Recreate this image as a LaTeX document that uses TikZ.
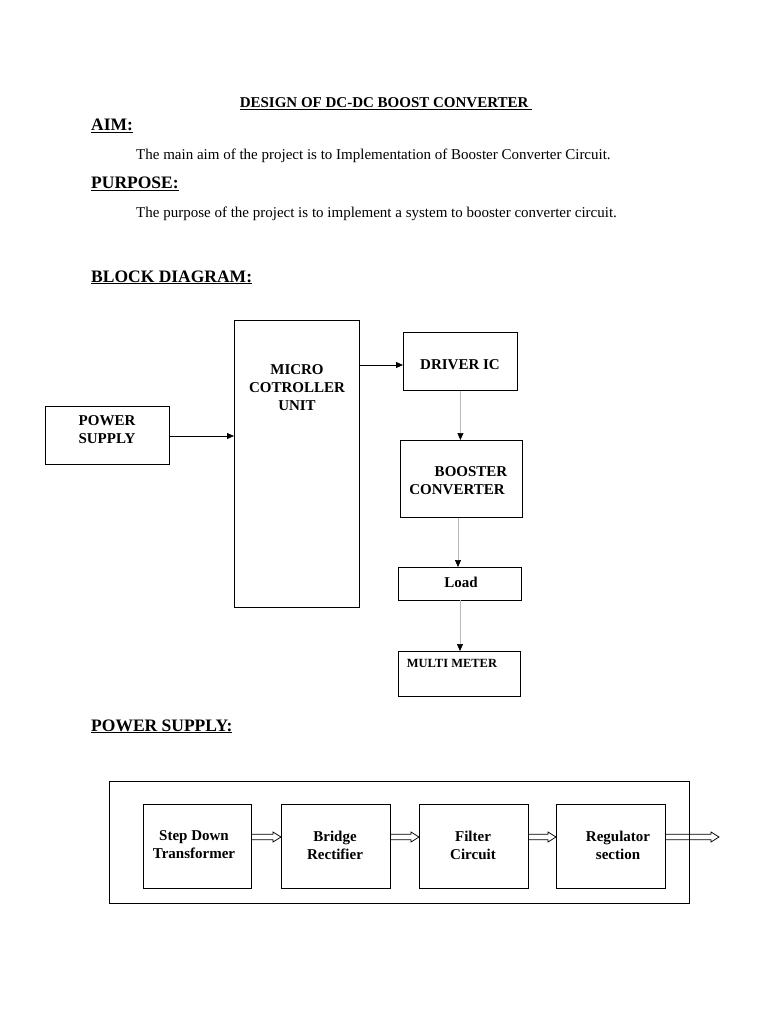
\documentclass[tikz,border=0pt]{standalone}
\usepackage{fontspec}
\setmainfont{Liberation Serif}
\usetikzlibrary{arrows.meta,calc}
\begin{document}
\begin{tikzpicture}[x=1pt,y=-1pt,
 box/.style={draw, line width=0.8pt, inner sep=0pt, anchor=north west},
 txt/.style={font=\fontsize{15}{18}\selectfont, inner sep=0pt, anchor=base west},
 head/.style={font=\fontsize{17.5}{20}\bfseries\selectfont, inner sep=0pt, anchor=base west},
 btxt/.style={font=\fontsize{15}{18}\bfseries\selectfont, inner sep=0pt, align=center},
 arr/.style={line width=0.8pt, -{Triangle[length=7pt,width=6pt]}},
 garr/.style={draw=gray!55, line width=0.7pt, -{Triangle[length=7pt,width=6pt,color=black]}},
 hol/.style={line width=0.75pt, line join=miter},
]
\useasboundingbox[fill=white] (0,0) rectangle (768,1024);

% header texts
\node[inner sep=0pt, anchor=base, font=\fontsize{15}{18}\bfseries\selectfont] (title) at (386,108) {\underline{DESIGN OF DC-DC BOOST CONVERTER\ }};
\node[head] (aim) at (91,131) {\underline{AIM:}};
\node[txt] (aimtxt) at (136,160) {The main aim of the project is to Implementation of Booster Converter Circuit.};
\node[head] (purp) at (91,189) {\underline{PURPOSE:}};
\node[txt] (purptxt) at (136,218) {The purpose of the project is to implement a system to booster converter circuit.};
\node[head] (bd) at (91,282) {\underline{BLOCK DIAGRAM:}};
\node[head] (psh) at (91,731) {\underline{POWER SUPPLY:}};

% block diagram boxes
\node[box, minimum width=125pt, minimum height=287pt] (mcu) at (234,320) {};
\node[btxt] (mcut) at (297,388) {MICRO\\COTROLLER\\UNIT};
\node[box, minimum width=114pt, minimum height=58pt] (drv) at (403,332) {};
\node[btxt] (drvt) at (460,365) {DRIVER IC};
\node[box, minimum width=124pt, minimum height=58pt] (ps) at (45,406) {};
\node[btxt] (pst) at (107,430) {POWER\\SUPPLY};
\node[box, minimum width=122pt, minimum height=77pt] (bst) at (400,440) {};
\node[btxt] (bst1) at (471,472) {BOOSTER};
\node[btxt] (bst2) at (457,490) {CONVERTER};
\node[box, minimum width=123pt, minimum height=33pt] (load) at (398,567) {};
\node[btxt] (loadt) at (461,582) {Load};
\node[box, minimum width=122pt, minimum height=45pt] (mm) at (398,651) {};
\node[btxt, font=\fontsize{12.5}{15}\bfseries\selectfont] (mmt) at (452,663) {MULTI METER};

% block diagram connectors
\draw[arr] (ps.east |- 0,436) -- (mcu.west |- 0,436);
\draw[arr] (mcu.east |- 0,365) -- (drv.west |- 0,365);
\draw[garr] (drv.south) -- (drv.south |- bst.north);
\draw[garr] (bst.south -| 458,0) -- (load.north -| 458,0);
\draw[garr] (load.north -| 460,0) ++(0,33) -- (mm.north -| 460,0);

% power supply section
\node[box, minimum width=580pt, minimum height=122pt] (outer) at (109,781) {};
\node[box, minimum width=108pt, minimum height=84pt] (s1) at (143,804) {};
\node[box, minimum width=109pt, minimum height=84pt] (s2) at (281,804) {};
\node[box, minimum width=109pt, minimum height=84pt] (s3) at (419,804) {};
\node[box, minimum width=109pt, minimum height=84pt] (s4) at (556,804) {};
\node[btxt] (s1t) at (194,845) {Step Down\\Transformer};
\node[btxt] (s2t) at (335,845) {Bridge\\Rectifier};
\node[btxt] (s3t) at (473,845) {Filter\\Circuit};
\node[btxt] (s4t) at (618,845) {Regulator\\section};
\coordinate (out) at (719,837);

\newcommand{\hollowarr}[2]{%
  \draw[hol] ($(#1)+(0,-2.8)$) -- ($(#2)+(-8,-2.8)$) -- ($(#2)+(-8,-5)$) -- (#2)
     -- ($(#2)+(-8,5)$) -- ($(#2)+(-8,2.8)$) -- ($(#1)+(0,2.8)$);}
\coordinate (a1) at (s1.east |- out); \coordinate (b1) at (s2.west |- out);
\coordinate (a2) at (s2.east |- out); \coordinate (b2) at (s3.west |- out);
\coordinate (a3) at (s3.east |- out); \coordinate (b3) at (s4.west |- out);
\coordinate (a4) at (s4.east |- out);
\hollowarr{a1}{b1}
\hollowarr{a2}{b2}
\hollowarr{a3}{b3}
\hollowarr{a4}{out}
\end{tikzpicture}
\end{document}
